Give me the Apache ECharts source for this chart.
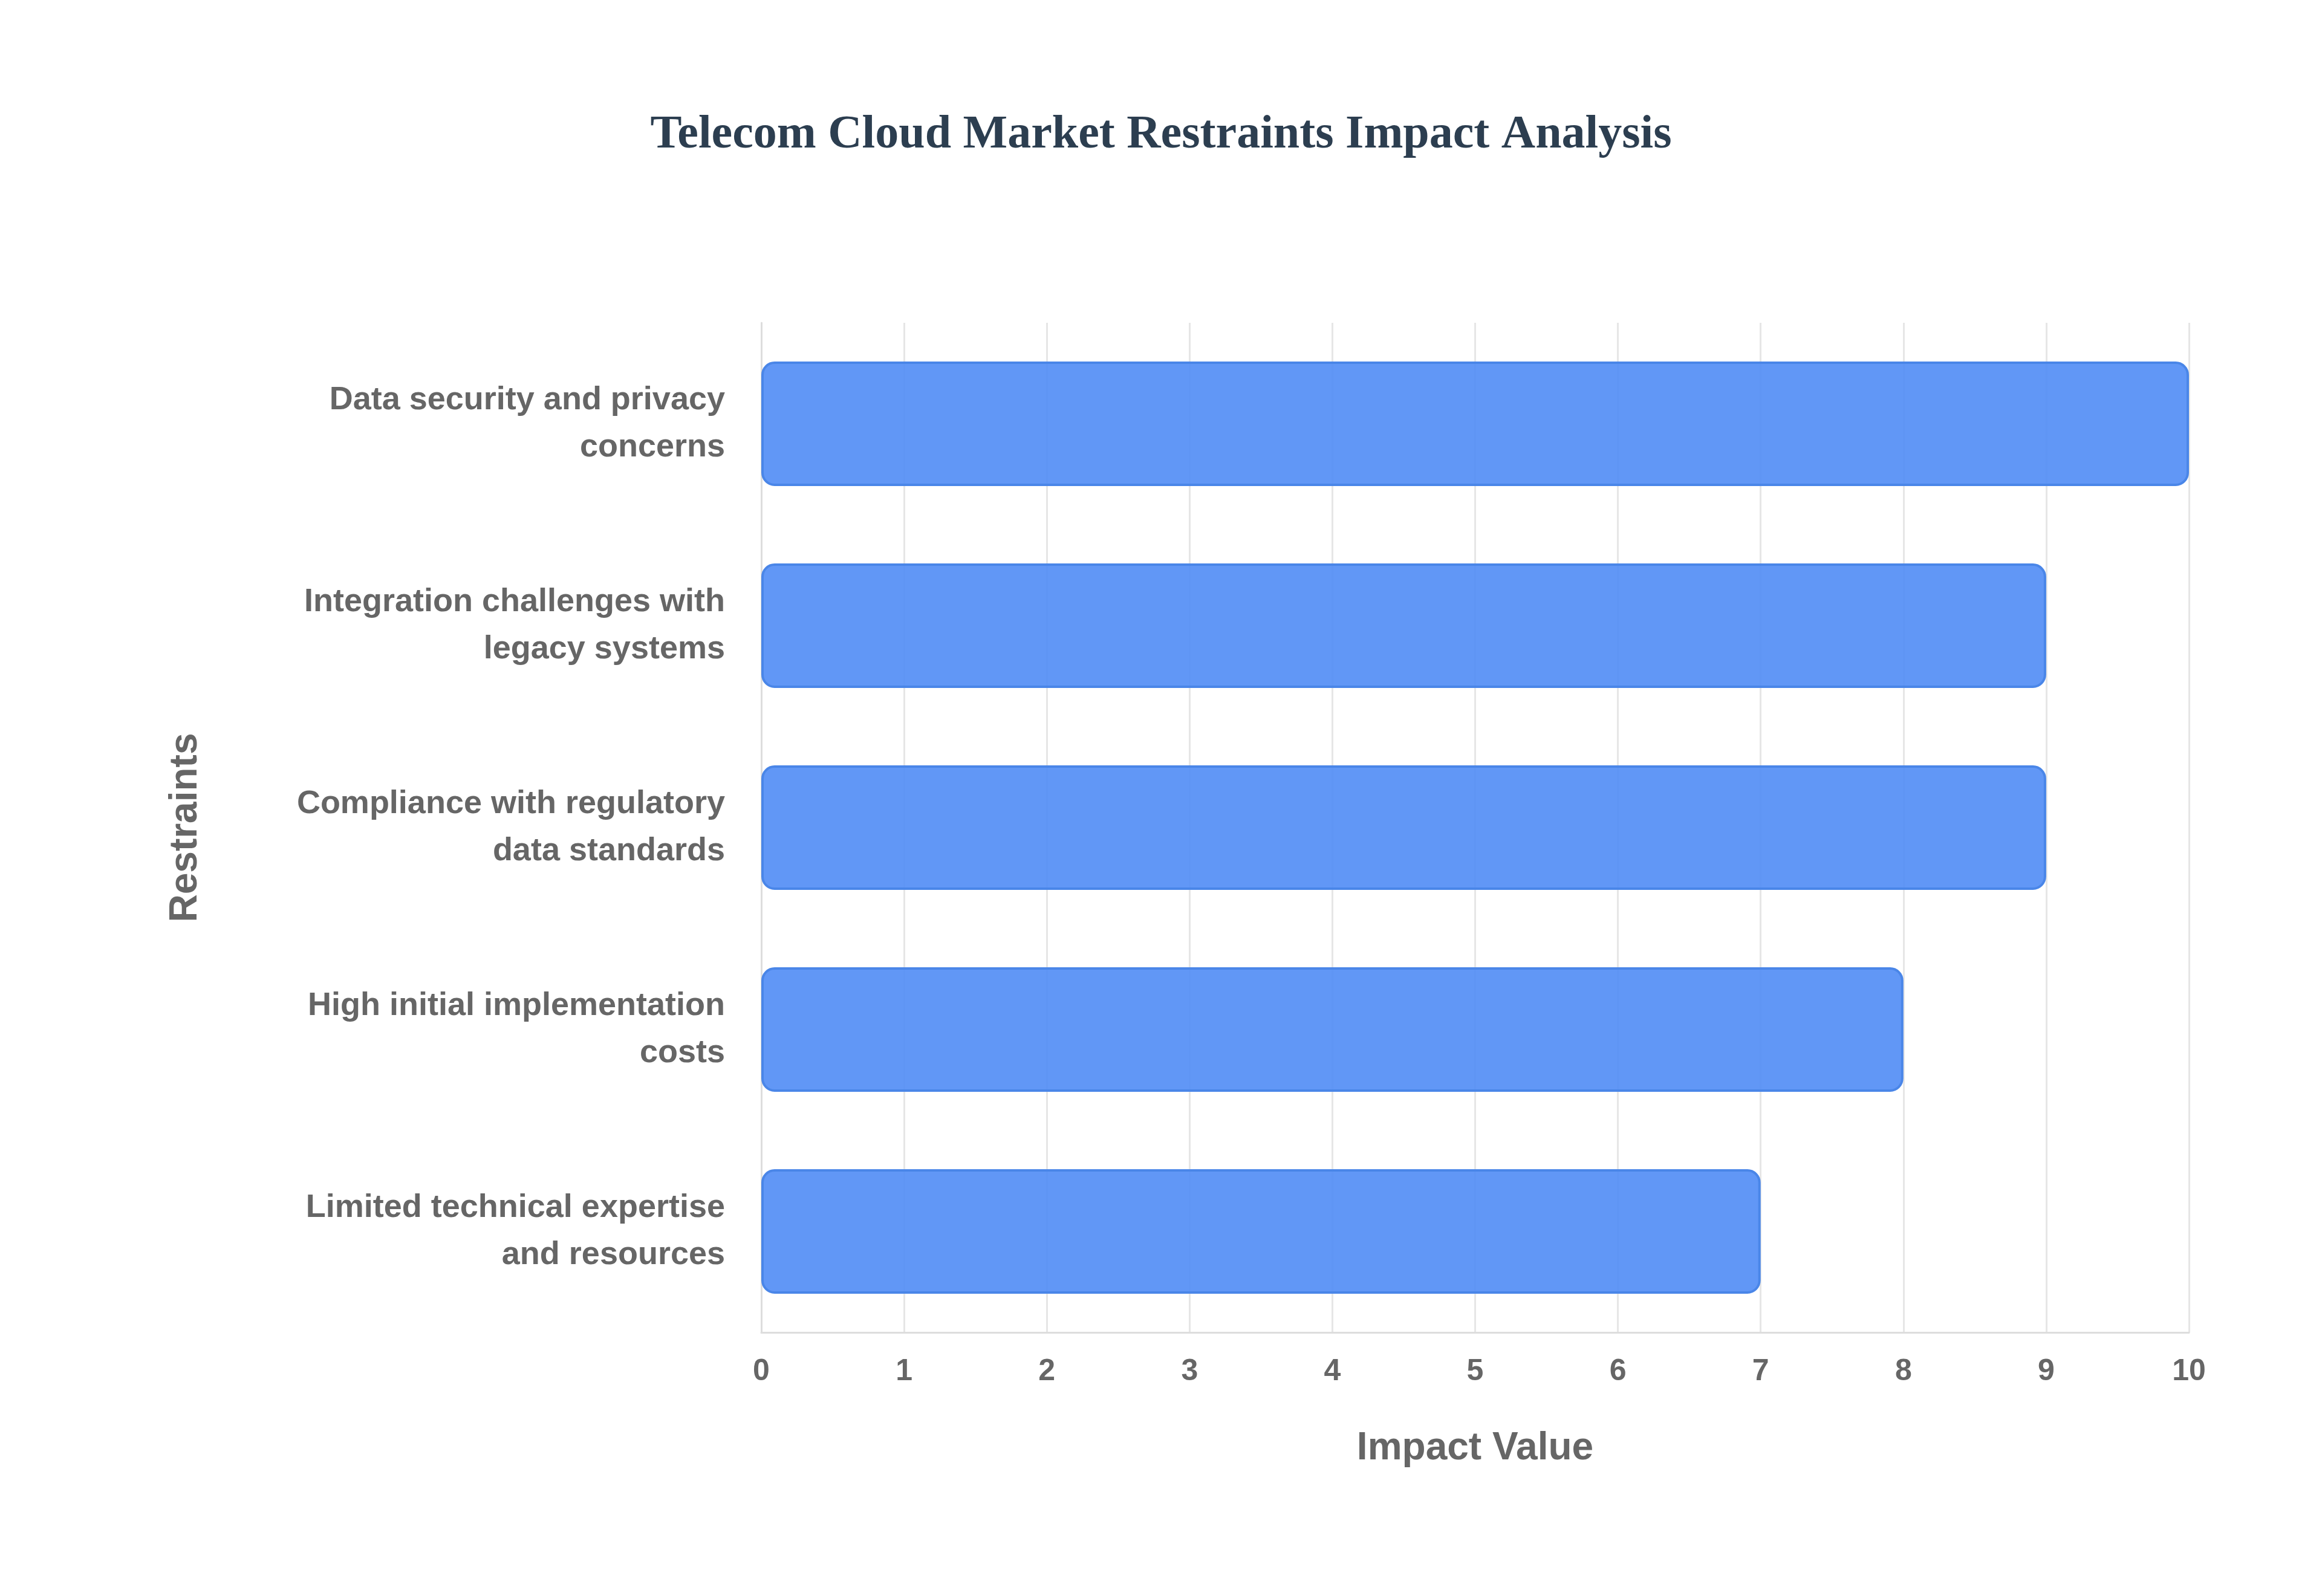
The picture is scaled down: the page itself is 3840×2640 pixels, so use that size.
<!DOCTYPE html>
<html><head><meta charset="utf-8">
<script src="https://cdn.jsdelivr.net/npm/echarts@6/dist/echarts.min.js"></script>
<style>html,body{margin:0;padding:0;background:#fff}#c{width:3840px;height:2640px}</style>
</head><body><div id="c"></div>
<script>
const categories = [
  "Limited technical expertise\nand resources",
  "High initial implementation\ncosts",
  "Compliance with regulatory\ndata standards",
  "Integration challenges with\nlegacy systems",
  "Data security and privacy\nconcerns"
];
const values = [7, 8, 9, 9, 10];
const xTicks = {min: 0, max: 10, interval: 1};

const chart = echarts.init(document.getElementById('c'));
chart.setOption({
  backgroundColor: '#ffffff',
  title: {
    text: 'Telecom Cloud Market Restraints Impact Analysis',
    left: 'center', top: 180,
    textStyle: {fontFamily: 'Liberation Serif', fontWeight: 'bold', fontSize: 78, color: '#2c3e50'}
  },
  grid: {left: 1259, right: 220, top: 534, bottom: 436},
  xAxis: {
    type: 'value', min: xTicks.min, max: xTicks.max, interval: xTicks.interval,
    name: 'Impact Value', nameLocation: 'middle', nameGap: 160,
    nameTextStyle: {fontFamily: 'Liberation Sans', fontWeight: 'bold', fontSize: 64, color: '#666'},
    axisLine: {show: true, lineStyle: {color: '#ddd', width: 3}},
    axisTick: {show: false},
    axisLabel: {fontFamily: 'Liberation Sans', fontWeight: 'bold', fontSize: 50, color: '#666', margin: 40},
    splitLine: {show: true, lineStyle: {color: '#e6e6e6', width: 3}}
  },
  yAxis: {
    type: 'category', data: categories,
    name: 'Restraints', nameLocation: 'middle', nameGap: 920, nameRotate: 90,
    nameTextStyle: {fontFamily: 'Liberation Sans', fontWeight: 'bold', fontSize: 64, color: '#666'},
    axisLine: {show: true, lineStyle: {color: '#ddd', width: 3}},
    axisTick: {show: false},
    axisLabel: {fontFamily: 'Liberation Sans', fontWeight: 'bold', fontSize: 54, color: '#666', margin: 60, align: 'right', lineHeight: 78}
  },
  series: [{
    type: 'bar', data: values, barWidth: 206,
    itemStyle: {color: 'rgba(80,140,245,0.9)', borderColor: '#4a86e8', borderWidth: 4, borderRadius: 20}
  }]
});
</script></body></html>
